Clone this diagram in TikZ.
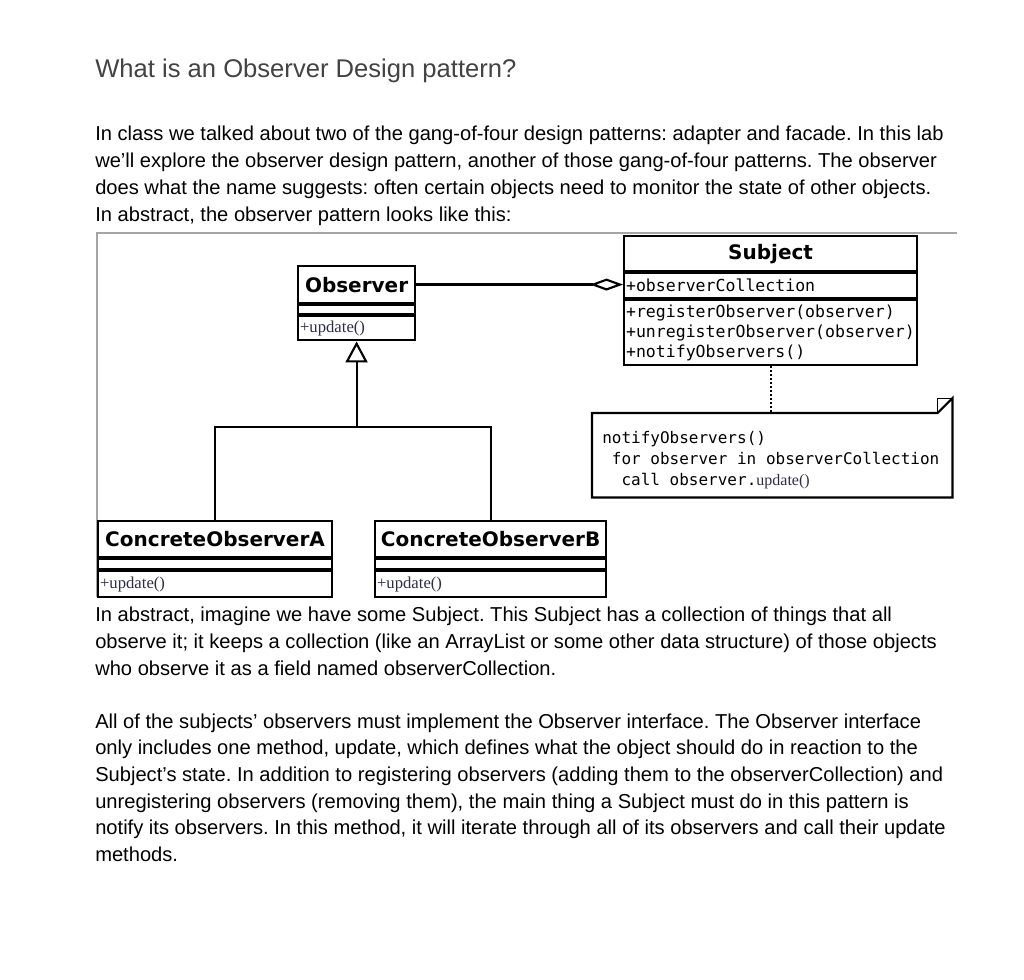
\documentclass[tikz,border=0pt]{standalone}
\usepackage{fontspec}
\setmainfont{Liberation Sans}
\newfontfamily\umlsans{DejaVu Sans}
\newfontfamily\umlmono{DejaVu Sans Mono}
\newfontfamily\umlserif{Liberation Serif}
\usepackage{xcolor}
\usepackage{tikz}
\usetikzlibrary{arrows.meta,positioning,calc}
\frenchspacing
\newcommand\monospaces{\spaceskip=0.602em\relax}

\definecolor{titlegray}{RGB}{67,67,67}
\definecolor{framegray}{RGB}{165,165,165}
\definecolor{opsblue}{RGB}{45,45,70}

\tikzset{
  titletext/.style={anchor=base west, inner sep=0pt, text=titlegray, font=\fontsize{19.2}{23}\selectfont},
  bodytext/.style={anchor=base west, inner sep=0pt, font=\fontsize{15.1}{20}\selectfont},
  classhead/.style={draw, line width=1.6pt, inner sep=0pt, anchor=north west, font=\umlsans\bfseries\fontsize{15}{18}\selectfont},
  classpart/.style={draw, line width=1.6pt, inner xsep=1.5pt, inner ysep=0pt, align=left},
  opstext/.style={font=\umlserif\fontsize{12.5}{15}\selectfont, text=opsblue},
  monotext/.style={font=\umlmono\fontsize{12.4}{15}\selectfont},
  notetext/.style={inner xsep=7.5pt, inner ysep=0pt, align=left, anchor=north west, font=\umlmono\fontsize{12}{15.75}\selectfont},
  umlline/.style={line width=1.6pt},
  frameline/.style={draw=framegray, line width=1.5pt}
}

\begin{document}
\begin{tikzpicture}[x=0.75pt,y=0.75pt,yscale=-1,xscale=1]
	\path[fill=white,use as bounding box] (0,0) rectangle (1024,980);

	% Text Node
	\node[titletext] (title) at (95,77.7) {What is an Observer Design pattern?};

	% Text Node
	\node[bodytext] (introa) at (95,140.7) {In class we talked about two of the gang-of-four design patterns: adapter and facade. In this lab};
	\node[bodytext] (introb) at (95,167.5) {we'll explore the observer design pattern, another of those gang-of-four patterns. The observer};
	\node[bodytext] (introc) at (95,194.3) {does what the name suggests: often certain objects need to monitor the state of other objects.};
	\node[bodytext] (introd) at (95,221.1) {In abstract, the observer pattern looks like this:};

	%Straight Lines: picture frame
	\coordinate (frameright) at (957,233);
	\coordinate (framecorner) at (97,233);
	\coordinate (framebottom) at (97,597);
	\draw[frameline] (frameright) -- (framecorner) -- (framebottom);

	%Shape: Class Observer
	\node[classhead, minimum width=87.75pt, minimum height=27.75pt] (observer) at (297,265) {Observer};
	\node[classpart, text width=84.75pt, minimum height=6.75pt, below=0pt of observer] (obsattr) {};
	\node[classpart, opstext, text width=84.75pt, minimum height=18pt, below=0pt of obsattr] (obsops) {+update()};

	%Shape: Class Subject
	\node[classhead, minimum width=219.75pt, minimum height=26.25pt] (subject) at (623,235) {Subject};
	\node[classpart, monotext, text width=216.75pt, minimum height=18.75pt, below=0pt of subject] (subjattr) {+observerCollection};
	\node[classpart, monotext, text width=216.75pt, minimum height=48.75pt, below=0pt of subjattr] (subjops) {+registerObserver(observer)\\+unregisterObserver(observer)\\+notifyObservers()};

	%Shape: Class ConcreteObserverA
	\node[classhead, minimum width=175.5pt, minimum height=27pt] (concretea) at (97,520) {ConcreteObserverA};
	\node[classpart, text width=172.5pt, minimum height=7.5pt, below=0pt of concretea] (concaattr) {};
	\node[classpart, opstext, text width=172.5pt, minimum height=19.5pt, below=0pt of concaattr] (concaops) {+update()};

	%Shape: Class ConcreteObserverB
	\node[classhead, minimum width=173.25pt, minimum height=27pt] (concreteb) at (374,520) {ConcreteObserverB};
	\node[classpart, text width=170.25pt, minimum height=7.5pt, below=0pt of concreteb] (concbattr) {};
	\node[classpart, opstext, text width=170.25pt, minimum height=19.5pt, below=0pt of concbattr] (concbops) {+update()};

	%Shape: Note
	\node[notetext, text width=255pt, minimum height=63pt] (note) at (592,413) {\monospaces\rule{0pt}{16.5pt}notifyObservers()\\\hphantom{f}for observer in observerCollection\\\hphantom{ff}call observer.{\umlserif\color{opsblue}update()}};
	\draw[line width=1.6pt] (note.north west) -- ([xshift=-11.25pt]note.north east) -- ([yshift=-11.25pt]note.north east) -- (note.south east) -- (note.south west) -- cycle;
	\draw[line width=0.6pt] ([xshift=-11.25pt]note.north east) |- ([yshift=-11.25pt]note.north east);

	%Straight Lines: aggregation
	\draw[umlline, -{Diamond[open, length=24.75pt, width=9pt]}] (observer.east) -- (observer.east -| subjattr.west);

	%Straight Lines: generalization
	\coordinate (branch) at (obsops.south |- 0,427);
	\draw[umlline, -{Triangle[open, length=15.75pt, width=16.5pt]}] (branch) -- (obsops.south);
	\draw[umlline] (concretea.north) |- (branch) -| (concreteb.north);

	%Straight Lines: note link
	\draw[umlline, dash pattern=on 1.5pt off 1.5pt] (subjops.south) -- (subjops.south |- note.north);

	% Text Node
	\node[bodytext] (abstra) at (95,621.7) {In abstract, imagine we have some Subject. This Subject has a collection of things that all};
	\node[bodytext] (abstrb) at (95,648.5) {observe it; it keeps a collection (like an ArrayList or some other data structure) of those objects};
	\node[bodytext] (abstrc) at (95,675.3) {who observe it as a field named observerCollection.};

	% Text Node
	\node[bodytext] (ifacea) at (95,728) {All of the subjects' observers must implement the Observer interface. The Observer interface};
	\node[bodytext] (ifaceb) at (95,754.7) {only includes one method, update, which defines what the object should do in reaction to the};
	\node[bodytext] (ifacec) at (95,781.4) {Subject's state. In addition to registering observers (adding them to the observerCollection) and};
	\node[bodytext] (ifaced) at (95,808.1) {unregistering observers (removing them), the main thing a Subject must do in this pattern is};
	\node[bodytext] (ifacee) at (95,834.8) {notify its observers. In this method, it will iterate through all of its observers and call their update};
	\node[bodytext] (ifacef) at (95,861.5) {methods.};

\end{tikzpicture}
\end{document}
